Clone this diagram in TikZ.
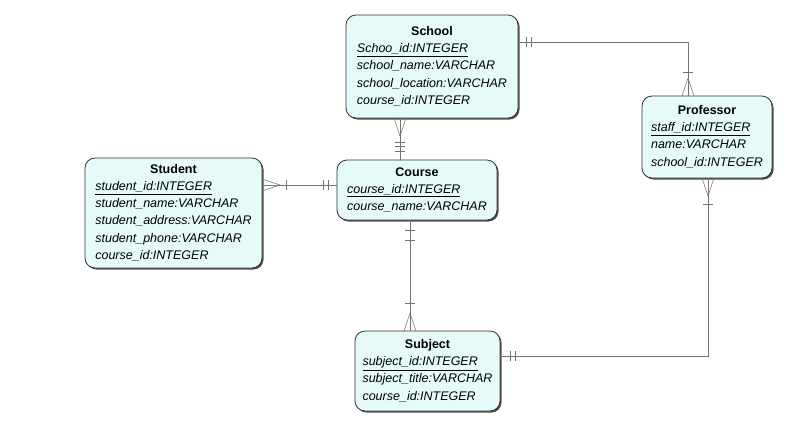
\documentclass[tikz,border=0pt]{standalone}
\usepackage{fontspec}
\setmainfont{Liberation Sans}
\usetikzlibrary{calc,shadows}
\definecolor{ent}{HTML}{E6FAFA}
\tikzset{
 entity/.style={draw=black!80,fill=ent,rounded corners=10pt,line width=0.8pt,inner sep=2pt,
   drop shadow={shadow xshift=1.5pt,shadow yshift=-1.5pt,fill=black!70,opacity=1},
   font=\fontsize{12.5}{18}\selectfont},
 rel/.style={draw=black!55,line width=0.6pt},
}
\newcommand{\ent}[2]{\renewcommand{\arraystretch}{0.95}\begin{tabular}{@{}l@{}}\multicolumn{1}{c}{\textbf{#1}}\\ #2\end{tabular}}
\newcommand{\pk}[1]{\underline{\textit{#1}}}
\begin{document}
\begin{tikzpicture}[x=1pt,y=-1pt]
\useasboundingbox (0,0) rectangle (796,437);
\node[entity,minimum width=172,minimum height=103] (school) at (432,66.5)
 {\ent{School}{\pk{Schoo\_id:INTEGER}\\ \textit{school\_name:VARCHAR}\\ \textit{school\_location:VARCHAR}\\ \textit{course\_id:INTEGER}}};
\node[entity,minimum width=160,minimum height=60] (course) at (417,190)
 {\ent{Course}{\pk{course\_id:INTEGER}\\ \textit{course\_name:VARCHAR}}};
\node[entity,minimum width=177,minimum height=110] (student) at (173.5,213)
 {\ent{Student}{\pk{student\_id:INTEGER}\\ \textit{student\_name:VARCHAR}\\ \textit{student\_address:VARCHAR}\\ \textit{student\_phone:VARCHAR}\\ \textit{course\_id:INTEGER}}};
\node[entity,minimum width=130,minimum height=82] (prof) at (707,137)
 {\ent{Professor}{\pk{staff\_id:INTEGER}\\ \textit{name:VARCHAR}\\ \textit{school\_id:INTEGER}}};
\node[entity,minimum width=145,minimum height=80] (subject) at (427.5,371)
 {\ent{Subject}{\pk{subject\_id:INTEGER}\\ \textit{subject\_title:VARCHAR}\\ \textit{course\_id:INTEGER}}};
% School - Professor
\coordinate (sp) at (school.east |- 0,42);
\coordinate (pt) at (688,96);
\draw[rel] (sp) -| (pt);
\draw[rel] ($(sp)+(8,-5)$)--($(sp)+(8,5)$) ($(sp)+(13,-5)$)--($(sp)+(13,5)$);
\draw[rel] ($(pt)+(0,-18)$)--($(pt)+(-6,0)$) ($(pt)+(0,-18)$)--($(pt)+(6,0)$);
\draw[rel] ($(pt)+(-5,-24)$)--($(pt)+(5,-24)$);
% School - Course
\coordinate (sb) at (400,118);
\coordinate (ct) at (400,160);
\draw[rel] (sb)--(ct);
\draw[rel] ($(sb)+(0,18)$)--($(sb)+(-6,0)$) ($(sb)+(0,18)$)--($(sb)+(6,0)$);
\draw[rel] ($(sb)+(-5,24)$)--($(sb)+(5,24)$);
\draw[rel] ($(ct)+(-5,-14)$)--($(ct)+(5,-14)$) ($(ct)+(-5,-9)$)--($(ct)+(5,-9)$);
% Student - Course
\coordinate (sr) at (262,185);
\coordinate (cl) at (337,185);
\draw[rel] (sr)--(cl);
\draw[rel] ($(sr)+(18,0)$)--($(sr)+(0,-6)$) ($(sr)+(18,0)$)--($(sr)+(0,6)$);
\draw[rel] ($(sr)+(24,-5)$)--($(sr)+(24,5)$);
\draw[rel] ($(cl)+(-14,-5)$)--($(cl)+(-14,5)$) ($(cl)+(-9,-5)$)--($(cl)+(-9,5)$);
% Course - Subject
\coordinate (cb) at (410,220);
\coordinate (st) at (410,331);
\draw[rel] (cb)--(st);
\draw[rel] ($(cb)+(-5,10)$)--($(cb)+(5,10)$) ($(cb)+(-5,20)$)--($(cb)+(5,20)$);
\draw[rel] ($(st)+(0,-18)$)--($(st)+(-6,0)$) ($(st)+(0,-18)$)--($(st)+(6,0)$);
\draw[rel] ($(st)+(-5,-28)$)--($(st)+(5,-28)$);
% Professor - Subject
\coordinate (pb) at (708,178);
\coordinate (sr2) at (subject.east |- 0,356);
\draw[rel] (pb) |- (sr2);
\draw[rel] ($(pb)+(0,18)$)--($(pb)+(-6,0)$) ($(pb)+(0,18)$)--($(pb)+(6,0)$);
\draw[rel] ($(pb)+(-5,26)$)--($(pb)+(5,26)$);
\draw[rel] ($(sr2)+(10,-5)$)--($(sr2)+(10,5)$) ($(sr2)+(15,-5)$)--($(sr2)+(15,5)$);
\end{tikzpicture}
\end{document}
